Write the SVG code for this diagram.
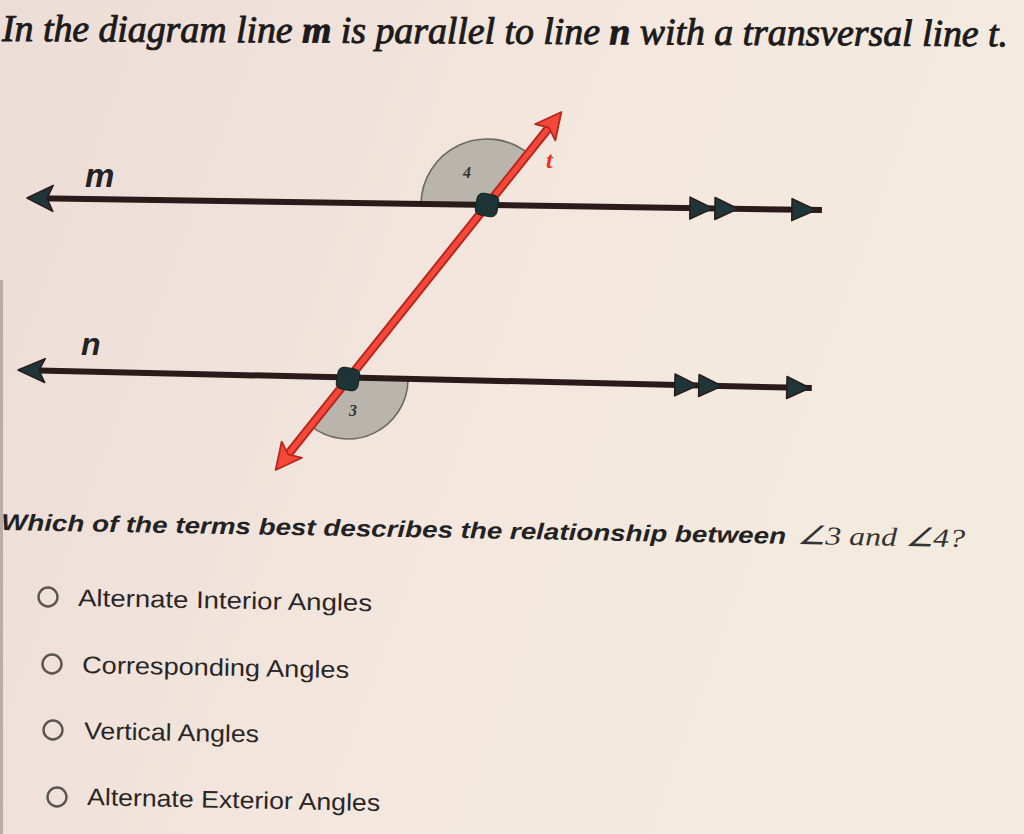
<svg xmlns="http://www.w3.org/2000/svg" width="1024" height="834" viewBox="0 0 1024 834">
<defs>
<linearGradient id="bg" x1="0" y1="0" x2="1" y2="0.3">
<stop offset="0" stop-color="#ecddd6"/>
<stop offset="0.6" stop-color="#f3e7de"/>
<stop offset="1" stop-color="#f4ebdf"/>
</linearGradient>
<style>
.ln{stroke:#2b1a1a;stroke-width:6;fill:none}
.ah{fill:#1f3538;stroke:#2b1a1a;stroke-width:1.5;stroke-linejoin:round}
.dot{fill:#1d3436;stroke:#15221f;stroke-width:1}
.sec{fill:#b9b5ad;stroke:#6e6a64;stroke-width:1.6}
.redo{stroke:#b8261f;stroke-width:9;fill:none}
.redi{stroke:#f4483a;stroke-width:5;fill:none}
.reda{fill:#f4483a;stroke:#b8261f;stroke-width:1.8;stroke-linejoin:round}
.lbl{font-family:"Liberation Sans",Arial,sans-serif;font-weight:bold;font-style:italic;fill:#222}
.num{font-family:"Liberation Serif",serif;font-style:italic;font-weight:bold;font-size:16px;fill:#333}
.opt{font-family:"Liberation Sans",Arial,sans-serif;font-size:24px;fill:#2a2626}
.rad{fill:none;stroke:#5a5654;stroke-width:2.4}
</style>
</defs>
<rect width="1024" height="834" fill="url(#bg)"/>
<rect x="0" y="280" width="3" height="554" fill="#9a8c86" opacity="0.6"/>

<g id="title">
<text x="2" y="41" transform="rotate(0.3 2 41)" font-family="'Liberation Serif',serif" font-style="italic" font-size="38" fill="#1c1a1a" stroke="#1c1a1a" stroke-width="0.9" textLength="1006" lengthAdjust="spacingAndGlyphs">In the diagram line <tspan font-weight="bold">m</tspan> is parallel to line <tspan font-weight="bold">n</tspan> with a transversal line t.</text>
</g>

<g id="angle4">
<path class="sec" d="M487,205 L421,204 A66,66 0 0 1 528.2,153.4 Z"/>
<text class="num" x="463" y="178">4</text>
</g>
<g id="angle3">
<path class="sec" d="M348,379 L408,380.4 A60,60 0 0 1 310.6,425.9 Z"/>
<text class="num" x="349" y="416">3</text>
</g>

<g id="line-m">
<g transform="translate(27,198) rotate(0.87)">
<line class="ln" x1="10" y1="0" x2="795" y2="0"/>
<path class="ah" d="M0,0 L26,-13 L20,0 L26,13 Z"/>
<path class="ah" d="M663,-11 L686,0 L663,11 Z"/>
<path class="ah" d="M688,-11 L711,0 L688,11 Z"/>
<path class="ah" d="M765,-11 L789,0 L765,11 Z"/>
</g>
<text class="lbl" x="85" y="187" font-size="33">m</text>
</g>

<g id="line-n">
<g transform="translate(18,370) rotate(1.3)">
<line class="ln" x1="10" y1="0" x2="794" y2="0"/>
<path class="ah" d="M0,0 L27,-12 L21,0 L27,12 Z"/>
<path class="ah" d="M657,-11 L680,0 L657,11 Z"/>
<path class="ah" d="M681,-11 L704,0 L681,11 Z"/>
<path class="ah" d="M769,-11 L792,0 L769,11 Z"/>
</g>
<text class="lbl" x="81" y="355" font-size="32">n</text>
</g>

<g id="connectors">
<g id="transversal-t" transform="translate(418.5,291) rotate(-51.4)">
<line class="redo" x1="-210" y1="0" x2="210" y2="0"/>
<line class="redi" x1="-210" y1="0" x2="210" y2="0"/>
<path class="reda" d="M229,0 L203,-13 L209,0 L203,13 Z"/>
<path class="reda" d="M-229,0 L-203,-13 L-209,0 L-203,13 Z"/>
</g>
<text x="546" y="168" font-family="'Liberation Serif',serif" font-style="italic" font-weight="bold" font-size="24" fill="#e8322a">t</text>
</g>

<g id="points">
<rect class="dot" x="476" y="194" width="22" height="22" rx="6" transform="rotate(10 487 205)"/>
<rect class="dot" x="337" y="368" width="22" height="22" rx="6" transform="rotate(10 348 379)"/>
</g>

<g id="question">
<text x="1" y="530" transform="rotate(1 1 530)" font-family="'Liberation Sans',Arial,sans-serif" font-weight="bold" font-style="italic" font-size="23" fill="#222" textLength="785" lengthAdjust="spacingAndGlyphs">Which of the terms best describes the relationship between</text>
<text x="797" y="544" transform="rotate(1 797 544)" font-family="'Liberation Serif',serif" font-style="italic" font-size="26" fill="#333" textLength="168" lengthAdjust="spacingAndGlyphs">∠3 and ∠4?</text>
</g>

<g id="option1">
<circle class="rad" cx="48" cy="597" r="9.5"/>
<text class="opt" x="78" y="606" transform="rotate(1 78 606)" textLength="294" lengthAdjust="spacingAndGlyphs">Alternate Interior Angles</text>
</g>
<g id="option2">
<circle class="rad" cx="52" cy="664" r="9.5"/>
<text class="opt" x="82" y="673" transform="rotate(1.1 82 673)" textLength="267" lengthAdjust="spacingAndGlyphs">Corresponding Angles</text>
</g>
<g id="option3">
<circle class="rad" cx="53" cy="730" r="9.5"/>
<text class="opt" x="84" y="739" transform="rotate(1.1 84 739)" textLength="175" lengthAdjust="spacingAndGlyphs">Vertical Angles</text>
</g>
<g id="option4">
<circle class="rad" cx="57" cy="797" r="9.5"/>
<text class="opt" x="87" y="805" transform="rotate(1.2 87 805)" textLength="293" lengthAdjust="spacingAndGlyphs">Alternate Exterior Angles</text>
</g>
</svg>
